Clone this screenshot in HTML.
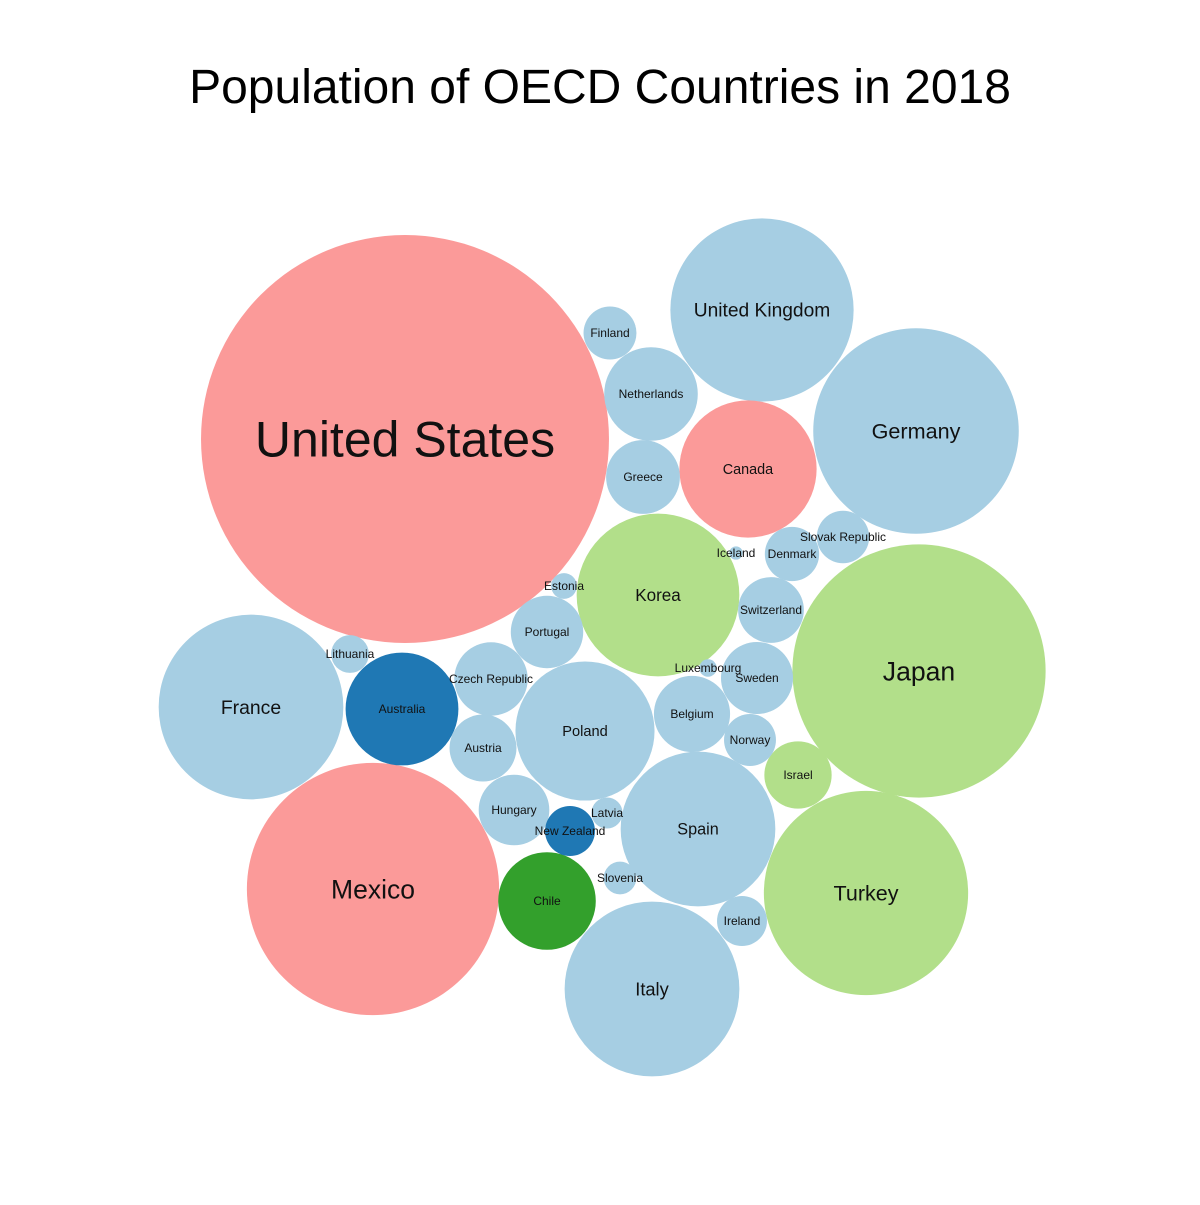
<!DOCTYPE html>
<html>
<head>
<meta charset="utf-8">
<style>
  html,body{margin:0;padding:0;background:#fff;}
  body{width:1200px;height:1200px;overflow:hidden;font-family:"Liberation Sans",Arial,sans-serif;}
  svg text{font-family:"Liberation Sans",Arial,sans-serif;}
</style>
</head>
<body>
<svg id="chart" width="1200" height="1200" viewBox="0 0 1200 1200" xmlns="http://www.w3.org/2000/svg">
  <rect width="1200" height="1200" fill="#ffffff"/>
  <text x="600" y="103" text-anchor="middle" font-size="48" fill="#000">Population of OECD Countries in 2018</text>
  <g id="bubbles"></g>
</svg>
<script>
// Data
const countries = ["United States","Mexico","Japan","Germany","United Kingdom","France","Turkey","Italy","Korea","Spain","Canada","Poland","Australia","Chile","Netherlands","Belgium","Greece","Czech Republic","Portugal","Sweden","Hungary","Austria","Switzerland","Israel","Denmark","Finland","Slovak Republic","Norway","Ireland","New Zealand","Lithuania","Slovenia","Latvia","Estonia","Luxembourg","Iceland"];
const populations = [327,125,126,83,66,67,82,60,52,47,37,38,25,18.7,17.2,11.4,10.7,10.6,10.3,10.2,9.8,8.8,8.5,8.9,5.8,5.5,5.4,5.3,4.9,4.9,2.8,2.1,1.9,1.3,0.6,0.35];
const regions = ["NA","NA","AS","EU","EU","EU","AS","EU","AS","EU","NA","EU","OC","SA","EU","EU","EU","EU","EU","EU","EU","EU","EU","AS","EU","EU","EU","EU","EU","OC","EU","EU","EU","EU","EU","EU"];

// Layout (packing positions, not data)
const layoutX = [405,373,919,916,762,251,866,652,658,698,748,585,402,547,651,692,643,491,547,757,514,483,771,798,792,610,843,750,742,570,350,620,607,564,708,736];
const layoutY = [439,889,671,431,310,707,893,989,595,829,469,731,709,901,394,714,477,679,632,678,810,748,610,775,554,333,537,740,921,831,654,878,813,586,668,553];

const regionColor = {NA:"#fb9a99",AS:"#b2df8a",EU:"#a6cee3",OC:"#1f78b4",SA:"#33a02c"};
const rScale = v => 11.28 * Math.sqrt(v);

const g = document.getElementById("bubbles");
const NS = "http://www.w3.org/2000/svg";
countries.forEach((name, i) => {
  const r = rScale(populations[i]);
  const slug = name.toLowerCase().replace(/\s+/g, "-");
  const c = document.createElementNS(NS, "circle");
  c.setAttribute("cx", layoutX[i]);
  c.setAttribute("cy", layoutY[i]);
  c.setAttribute("r", r);
  c.setAttribute("fill", regionColor[regions[i]]);
  
  
  g.appendChild(c);
});
countries.forEach((name, i) => {
  const r = rScale(populations[i]);
  const slug = name.toLowerCase().replace(/\s+/g, "-");
  const fs = Math.max(12, r < 150 ? r * 0.21 : r * 0.245);
  const t = document.createElementNS(NS, "text");
  t.setAttribute("x", layoutX[i]);
  t.setAttribute("y", layoutY[i] + fs * 0.35);
  t.setAttribute("text-anchor", "middle");
  t.setAttribute("font-size", fs.toFixed(1));
  t.setAttribute("fill", "#111");
  t.textContent = name;
  
  
  g.appendChild(t);
});
</script>
</body>
</html>
